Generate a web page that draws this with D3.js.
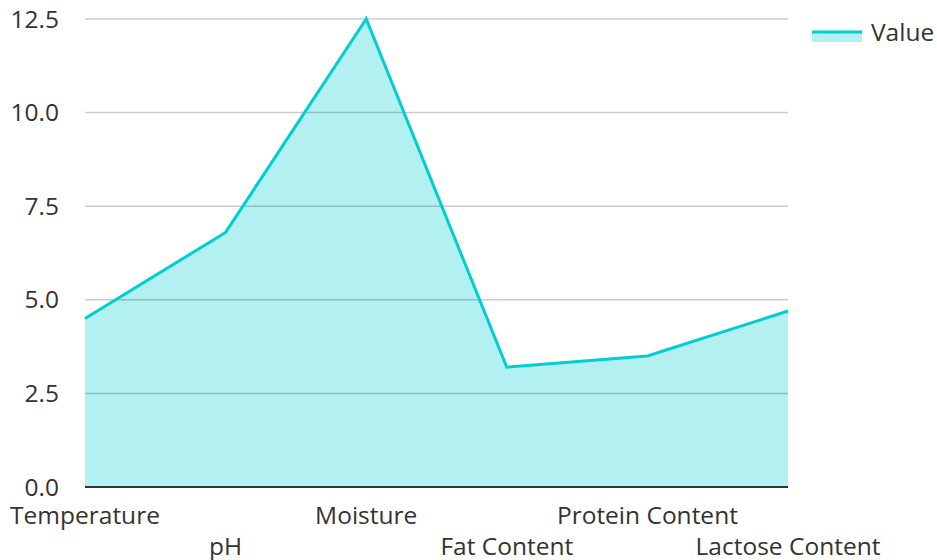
<!DOCTYPE html>
<html>
<head>
<meta charset="utf-8">
<script src="https://cdn.jsdelivr.net/npm/d3@7"></script>
<style>
  body { margin: 0; background: #fff; }
  text { font-family: "Open Sans", sans-serif; }
</style>
</head>
<body>
<script>
const categories = ["Temperature", "pH", "Moisture", "Fat Content", "Protein Content", "Lactose Content"];
const values = [4.5, 6.8, 12.5, 3.2, 3.5, 4.7];
const yTicks = [0, 2.5, 5, 7.5, 10, 12.5];

const width = 937, height = 560;
const margin = { top: 19, right: 149, bottom: 73, left: 85 };
const lineColor = "#00ced1";
const fontSize = 24.5;

const svg = d3.select("body").append("svg")
    .attr("width", width)
    .attr("height", height);

const x = d3.scalePoint()
    .domain(categories)
    .range([margin.left, width - margin.right]);
const y = d3.scaleLinear()
    .domain([0, 12.5])
    .range([height - margin.bottom, margin.top]);

const data = categories.map((c, i) => ({ c: c, v: values[i] }));

// area first, grid lines over it
svg.append("path")
    .datum(data)
    .attr("fill", lineColor)
    .attr("fill-opacity", 0.3)
    .attr("d", d3.area().x(d => x(d.c)).y0(y(0)).y1(d => y(d.v)));

svg.append("g")
    .selectAll("line")
    .data(yTicks.filter(t => t > 0))
    .enter()
    .append("line")
    .attr("x1", margin.left)
    .attr("x2", width - margin.right)
    .attr("y1", d => y(d))
    .attr("y2", d => y(d))
    .attr("stroke", "#000")
    .attr("stroke-opacity", 0.2)
    .attr("stroke-width", 1.5);

svg.append("path")
    .datum(data)
    .attr("fill", "none")
    .attr("stroke", lineColor)
    .attr("stroke-width", 3)
    .attr("d", d3.line().x(d => x(d.c)).y(d => y(d.v)));

// y axis labels
svg.append("g")
    .selectAll("text")
    .data(yTicks)
    .enter()
    .append("text")
    .attr("x", margin.left - 26)
    .attr("y", d => y(d))
    .attr("dy", "0.35em")
    .attr("text-anchor", "end")
    .attr("font-size", fontSize)
    .attr("fill", "#333")
    .text(d => d.toFixed(1));

// x axis
svg.append("line")
    .attr("x1", margin.left)
    .attr("x2", width - margin.right)
    .attr("y1", y(0))
    .attr("y2", y(0))
    .attr("stroke", "#333")
    .attr("stroke-width", 2);

svg.append("g")
    .selectAll("text")
    .data(categories)
    .enter()
    .append("text")
    .attr("x", d => x(d))
    .attr("y", (d, i) => i % 2 === 0 ? 524 : 555)
    .attr("text-anchor", "middle")
    .attr("font-size", fontSize)
    .attr("fill", "#333")
    .text(d => d);

// legend
const legend = svg.append("g").attr("transform", "translate(812,32)");
legend.append("rect")
    .attr("x", 0).attr("y", 0).attr("width", 50).attr("height", 10)
    .attr("fill", lineColor).attr("fill-opacity", 0.3);
legend.append("line")
    .attr("x1", 0).attr("x2", 50).attr("y1", 0).attr("y2", 0)
    .attr("stroke", lineColor).attr("stroke-width", 3);
legend.append("text")
    .attr("x", 59).attr("y", 0).attr("dy", "0.35em")
    .attr("font-size", fontSize).attr("fill", "#333")
    .text("Value");
</script>
</body>
</html>
